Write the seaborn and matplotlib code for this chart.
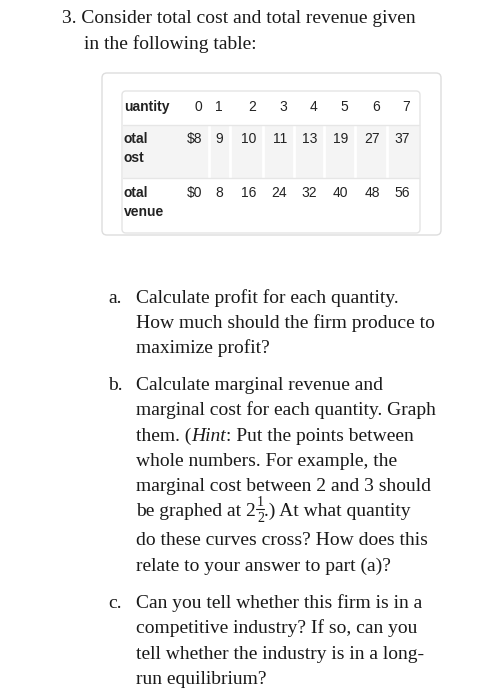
import matplotlib
matplotlib.use("Agg")
import matplotlib.pyplot as plt
import seaborn as sns
import pandas as pd
from matplotlib.patches import FancyBboxPatch, Rectangle

sns.set_theme(style="white")
plt.rcParams['font.family'] = ['Liberation Serif', 'DejaVu Serif']

quantity = [0, 1, 2, 3, 4, 5, 6, 7]
total_cost = [8, 9, 10, 11, 13, 19, 27, 37]
total_revenue = [0, 8, 16, 24, 32, 40, 48, 56]
row_labels = [["uantity"], ["otal", "ost"], ["otal", "venue"]]

table = pd.DataFrame({"q": quantity, "tc": total_cost, "tr": total_revenue})

W, H = 480, 700
fig = plt.figure(figsize=(4.8, 7), dpi=100)
ax = fig.add_axes([0, 0, 1, 1])
ax.set_xlim(0, W); ax.set_ylim(H, 0); ax.axis("off")
renderer = fig.canvas.get_renderer()

FS = 14
def seg_line(x, y, segs, fs=FS):
    for s in segs:
        if isinstance(s, tuple):
            txt, kw = s
        else:
            txt, kw = s, {}
        t = ax.text(x, y, txt, fontsize=kw.get("fs", fs), va="baseline",
                    style=kw.get("style", "normal"), color="#1a1a1a",
                    family=['Liberation Serif'])
        bb = t.get_window_extent(renderer)
        x += bb.width
    return x

seg_line(62, 23, ["3. Consider total cost and total revenue given"])
seg_line(84, 49, ["in the following table:"])

# table box
ax.add_patch(FancyBboxPatch((102, 73), 339, 162, boxstyle="round,pad=0,rounding_size=5",
                            fc="white", ec="#dddddd", lw=1))
ax.add_patch(FancyBboxPatch((122, 91), 298, 142, boxstyle="round,pad=0,rounding_size=4",
                            fc="white", ec="#e4e4e4", lw=1))
ax.add_patch(Rectangle((123, 125), 296, 53, fc="#f4f4f4", ec="none"))
col_right = [202, 223, 256, 287, 317, 348, 380, 410]
for xr in col_right[:-1]:
    ax.plot([xr + 7, xr + 7], [125, 178], color="white", lw=2)
ax.plot([123, 419], [125, 125], color="#e6e6e6", lw=1)
ax.plot([123, 419], [178, 178], color="#e6e6e6", lw=1)

sans = dict(family=['Liberation Sans', 'DejaVu Sans'], fontsize=10, color="#222222", va="baseline")
ax.text(124, 111, row_labels[0][0], fontweight="bold", **sans)
for i, l in enumerate(row_labels[1]):
    ax.text(124, 143 + 19 * i, l, fontweight="bold", **sans)
for i, l in enumerate(row_labels[2]):
    ax.text(124, 197 + 19 * i, l, fontweight="bold", **sans)
for i, row in table.iterrows():
    xr = col_right[i]
    ax.text(xr, 111, str(row.q), ha="right", **sans)
    ax.text(xr, 143, ("$" if i == 0 else "") + str(row.tc), ha="right", **sans)
    ax.text(xr, 197, ("$" if i == 0 else "") + str(row.tr), ha="right", **sans)

# questions
seg_line(108, 303, ["a."])
seg_line(136, 303, ["Calculate profit for each quantity."])
seg_line(136, 328, ["How much should the firm produce to"])
seg_line(136, 353, ["maximize profit?"])

seg_line(108, 390, ["b."])
seg_line(136, 390, ["Calculate marginal revenue and"])
seg_line(136, 415, ["marginal cost for each quantity. Graph"])
seg_line(136, 441, ["them. (", ("Hint", {"style": "italic"}), ": Put the points between"])
seg_line(136, 466, ["whole numbers. For example, the"])
seg_line(136, 491, ["marginal cost between 2 and 3 should"])
x = seg_line(136, 516, ["be graphed at 2"])
ax.text(x + 1, 506, "1", fontsize=10, color="#1a1a1a", va="baseline", family=['Liberation Serif'])
ax.plot([x, x + 8], [509, 509], color="#1a1a1a", lw=0.8)
ax.text(x + 1, 522, "2", fontsize=10, color="#1a1a1a", va="baseline", family=['Liberation Serif'])
seg_line(x + 8, 516, [".) At what quantity"])
seg_line(136, 545, ["do these curves cross? How does this"])
seg_line(136, 571, ["relate to your answer to part (a)?"])

seg_line(108, 608, ["c."])
seg_line(136, 608, ["Can you tell whether this firm is in a"])
seg_line(136, 633, ["competitive industry? If so, can you"])
seg_line(136, 659, ["tell whether the industry is in a long-"])
seg_line(136, 684, ["run equilibrium?"])

fig.savefig("out.png", dpi=100)
